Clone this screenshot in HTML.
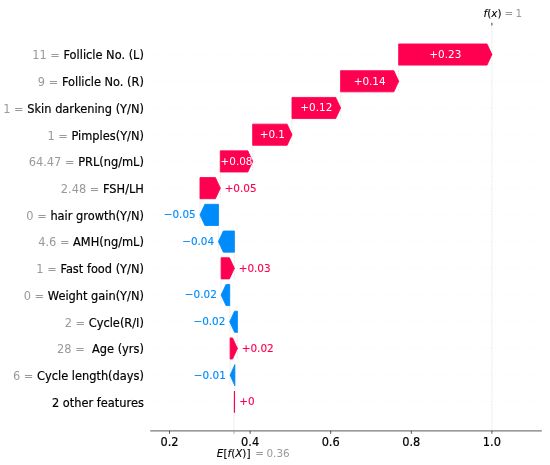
<!DOCTYPE html><html><head><meta charset="utf-8"><title>SHAP waterfall</title>
<style>html,body{margin:0;padding:0;background:#fff}svg{display:block}text{font-family:"DejaVu Sans","Liberation Sans",sans-serif;stroke-width:0.12px}.i{font-style:oblique}.k.m{stroke-width:0.1px}.k{fill:#000;stroke:#000;stroke-width:0.19px}.g{fill:#999;stroke:none}.w{fill:#fff;stroke:none}.r{fill:#ff0051;stroke:#ff0051}.b{fill:#008bfb;stroke:#008bfb}.t{font-size:11.4px}.s{font-size:10.43px}.br{fill:#ff0051;stroke:#ff0051;stroke-width:0.87px;stroke-linejoin:miter}.bb{fill:#008bfb;stroke:#008bfb;stroke-width:0.87px;stroke-linejoin:miter}</style></head><body>
<svg width="550" height="465" viewBox="0 0 550 465">
<rect width="550" height="465" fill="#fff"/>
<g stroke="#cccccc" stroke-opacity="0.55" stroke-width="0.5" stroke-dasharray="0.5 2.5" fill="none">
<line x1="150.2" x2="541.8" y1="54.55" y2="54.55"/>
<line x1="150.2" x2="541.8" y1="81.27" y2="81.27"/>
<line x1="150.2" x2="541.8" y1="107.99" y2="107.99"/>
<line x1="150.2" x2="541.8" y1="134.71" y2="134.71"/>
<line x1="150.2" x2="541.8" y1="161.43" y2="161.43"/>
<line x1="150.2" x2="541.8" y1="188.15" y2="188.15"/>
<line x1="150.2" x2="541.8" y1="214.87" y2="214.87"/>
<line x1="150.2" x2="541.8" y1="241.59" y2="241.59"/>
<line x1="150.2" x2="541.8" y1="268.31" y2="268.31"/>
<line x1="150.2" x2="541.8" y1="295.03" y2="295.03"/>
<line x1="150.2" x2="541.8" y1="321.75" y2="321.75"/>
<line x1="150.2" x2="541.8" y1="348.47" y2="348.47"/>
<line x1="150.2" x2="541.8" y1="375.19" y2="375.19"/>
<line x1="150.2" x2="541.8" y1="401.91" y2="401.91"/>
</g>
<g stroke="#bbbbbb" stroke-opacity="0.65" stroke-width="0.5" stroke-dasharray="1.85 0.8" fill="none">
<line x1="491.9" x2="491.9" y1="25.0" y2="430.85"/>
<line x1="234.0" x2="234.0" y1="401.86" y2="430.85"/>
<line x1="398.7" x2="398.7" y1="43.86" y2="91.96"/>
<line x1="340.6" x2="340.6" y1="70.58" y2="118.68"/>
<line x1="292.0" x2="292.0" y1="97.30" y2="145.40"/>
<line x1="252.7" x2="252.7" y1="124.02" y2="172.12"/>
<line x1="220.3" x2="220.3" y1="150.74" y2="198.84"/>
<line x1="200.0" x2="200.0" y1="177.46" y2="225.56"/>
<line x1="218.45" x2="218.45" y1="204.18" y2="252.28"/>
<line x1="234.35" x2="234.35" y1="230.90" y2="279.00"/>
<line x1="221.15" x2="221.15" y1="257.62" y2="305.72"/>
<line x1="229.7" x2="229.7" y1="284.34" y2="332.44"/>
<line x1="237.4" x2="237.4" y1="311.06" y2="359.16"/>
<line x1="230.15" x2="230.15" y1="337.78" y2="385.88"/>
<line x1="234.85" x2="234.85" y1="364.50" y2="412.60"/>
</g>
<path class="br" d="M398.7 43.97L487.00 43.97L491.9 54.55L487.00 65.12L398.7 65.12Z"/>
<text class="s w" x="445.30" y="58.00" text-anchor="middle">+0.23</text>
<text class="t" x="143.9" y="59.45" text-anchor="end" xml:space="preserve"><tspan class="g">11 = </tspan><tspan class="k">Follicle No. (L)</tspan></text>
<path class="br" d="M340.6 70.69L393.80 70.69L398.7 81.27L393.80 91.84L340.6 91.84Z"/>
<text class="s w" x="369.65" y="84.72" text-anchor="middle">+0.14</text>
<text class="t" x="143.9" y="86.17" text-anchor="end" xml:space="preserve"><tspan class="g">9 = </tspan><tspan class="k">Follicle No. (R)</tspan></text>
<path class="br" d="M292.0 97.41L335.70 97.41L340.6 107.99L335.70 118.56L292.0 118.56Z"/>
<text class="s w" x="316.30" y="111.44" text-anchor="middle">+0.12</text>
<text class="t" x="143.9" y="112.89" text-anchor="end" xml:space="preserve"><tspan class="g">1 = </tspan><tspan class="k">Skin darkening (Y/N)</tspan></text>
<path class="br" d="M252.7 124.13L287.10 124.13L292.0 134.71L287.10 145.28L252.7 145.28Z"/>
<text class="s w" x="272.35" y="138.16" text-anchor="middle">+0.1</text>
<text class="t" x="143.9" y="139.61" text-anchor="end" xml:space="preserve"><tspan class="g">1 = </tspan><tspan class="k">Pimples(Y/N)</tspan></text>
<path class="br" d="M220.3 150.86L247.80 150.86L252.7 161.43L247.80 172.00L220.3 172.00Z"/>
<text class="s w" x="236.50" y="164.88" text-anchor="middle">+0.08</text>
<text class="t" x="143.9" y="166.33" text-anchor="end" xml:space="preserve"><tspan class="g">64.47 = </tspan><tspan class="k">PRL(ng/mL)</tspan></text>
<path class="br" d="M200.0 177.57L215.40 177.57L220.3 188.15L215.40 198.72L200.0 198.72Z"/>
<text class="s r" x="224.65" y="191.60">+0.05</text>
<text class="t" x="143.9" y="193.05" text-anchor="end" xml:space="preserve"><tspan class="g">2.48 = </tspan><tspan class="k">FSH/LH</tspan></text>
<path class="bb" d="M218.45 204.30L204.90 204.30L200.0 214.87L204.90 225.44L218.45 225.44Z"/>
<text class="s b" x="195.65" y="218.32" text-anchor="end">−0.05</text>
<text class="t" x="143.9" y="219.77" text-anchor="end" xml:space="preserve"><tspan class="g">0 = </tspan><tspan class="k">hair growth(Y/N)</tspan></text>
<path class="bb" d="M234.35 231.01L223.35 231.01L218.45 241.59L223.35 252.16L234.35 252.16Z"/>
<text class="s b" x="214.10" y="245.04" text-anchor="end">−0.04</text>
<text class="t" x="143.9" y="246.49" text-anchor="end" xml:space="preserve"><tspan class="g">4.6 = </tspan><tspan class="k">AMH(ng/mL)</tspan></text>
<path class="br" d="M221.15 257.74L229.45 257.74L234.35 268.31L229.45 278.88L221.15 278.88Z"/>
<text class="s r" x="238.70" y="271.76">+0.03</text>
<text class="t" x="143.9" y="273.21" text-anchor="end" xml:space="preserve"><tspan class="g">1 = </tspan><tspan class="k">Fast food (Y/N)</tspan></text>
<path class="bb" d="M229.7 284.45L226.05 284.45L221.15 295.03L226.05 305.60L229.7 305.60Z"/>
<text class="s b" x="216.80" y="298.48" text-anchor="end">−0.02</text>
<text class="t" x="143.9" y="299.93" text-anchor="end" xml:space="preserve"><tspan class="g">0 = </tspan><tspan class="k">Weight gain(Y/N)</tspan></text>
<path class="bb" d="M237.4 311.18L234.60 311.18L229.7 321.75L234.60 332.32L237.4 332.32Z"/>
<text class="s b" x="225.35" y="325.20" text-anchor="end">−0.02</text>
<text class="t" x="143.9" y="326.65" text-anchor="end" xml:space="preserve"><tspan class="g">2 = </tspan><tspan class="k">Cycle(R/I)</tspan></text>
<path class="br" d="M230.15 337.89L232.50 337.89L237.4 348.47L232.50 359.04L230.15 359.04Z"/>
<text class="s r" x="241.75" y="351.92">+0.02</text>
<text class="t" x="143.9" y="353.37" text-anchor="end" xml:space="preserve"><tspan class="g">28 = </tspan><tspan class="k"> Age (yrs)</tspan></text>
<path class="bb" d="M234.85 364.62L234.85 364.62L230.15 375.19L234.85 385.76L234.85 385.76Z"/>
<text class="s b" x="225.80" y="378.64" text-anchor="end">−0.01</text>
<text class="t" x="143.9" y="380.09" text-anchor="end" xml:space="preserve"><tspan class="g">6 = </tspan><tspan class="k">Cycle length(days)</tspan></text>
<rect x="233.85" y="391.04" width="1.15" height="21.75" fill="#ff0051"/>
<text class="s r" x="239.20" y="405.36">+0</text>
<text class="t k" x="143.9" y="406.81" text-anchor="end">2 other features</text>
<line x1="150.2" x2="541.8" y1="430.85" y2="430.85" stroke="#7a7a7a" stroke-width="1.3"/>
<line x1="169.50" x2="169.50" y1="430.85" y2="433.85" stroke="#222" stroke-width="0.75"/>
<text class="t k" x="169.50" y="446.0" text-anchor="middle">0.2</text>
<line x1="250.10" x2="250.10" y1="430.85" y2="433.85" stroke="#222" stroke-width="0.75"/>
<text class="t k" x="250.10" y="446.0" text-anchor="middle">0.4</text>
<line x1="330.70" x2="330.70" y1="430.85" y2="433.85" stroke="#222" stroke-width="0.75"/>
<text class="t k" x="330.70" y="446.0" text-anchor="middle">0.6</text>
<line x1="411.30" x2="411.30" y1="430.85" y2="433.85" stroke="#222" stroke-width="0.75"/>
<text class="t k" x="411.30" y="446.0" text-anchor="middle">0.8</text>
<line x1="491.90" x2="491.90" y1="430.85" y2="433.85" stroke="#222" stroke-width="0.75"/>
<text class="t k" x="491.90" y="446.0" text-anchor="middle">1.0</text>
<line x1="234" x2="234" y1="430.85" y2="433.85" stroke="#999" stroke-width="0.8"/>
<text class="s k m" x="216.8" y="456.8"><tspan class="i">E</tspan>[<tspan class="i">f</tspan>(<tspan class="i">X</tspan>)]</text>
<text class="s g" x="255.2" y="456.8" word-spacing="-0.75">= 0.36</text>
<line x1="491.9" x2="491.9" y1="22.8" y2="25.4" stroke="#000" stroke-width="0.8"/>
<text class="s k m" x="483.5" y="17.2"><tspan class="i">f</tspan>(<tspan class="i">x</tspan>)</text>
<text class="s g" x="504.4" y="17.2" word-spacing="-0.95">= 1</text>
</svg></body></html>
